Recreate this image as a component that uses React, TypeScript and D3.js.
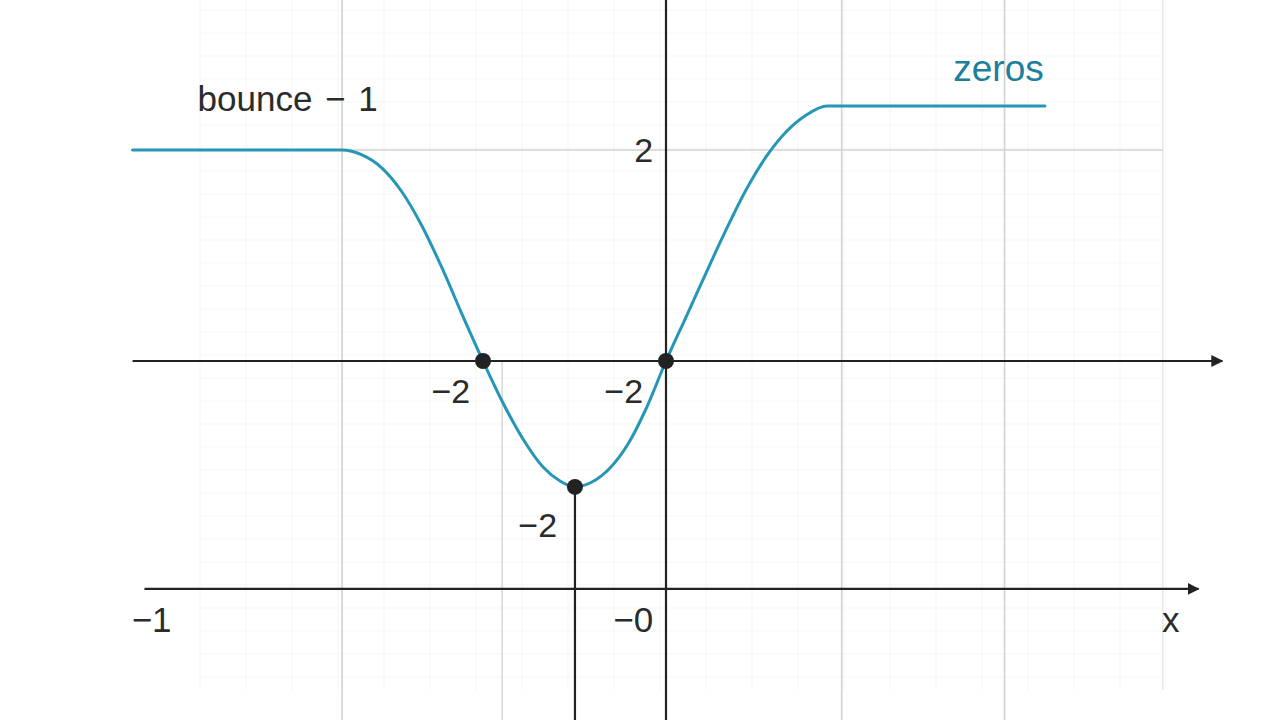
import React from "react";
import * as d3 from "d3";

// Curve samples (x units, y units)
const curveX = [-5.83, -3.541, -3.322, -3.104, -2.885, -2.667, -2.448, -2.23, -2.0, -1.781, -1.563, -1.344, -1.158, -0.995, -0.809, -0.612, -0.415, -0.219, 0, 0.219, 0.437, 0.656, 0.874, 1.093, 1.311, 1.53, 1.76, 4.142];
const curveY = [2.0, 2.0, 1.953, 1.829, 1.602, 1.28, 0.882, 0.445, 0, -0.398, -0.739, -1.005, -1.137, -1.194, -1.147, -1.014, -0.787, -0.455, 0, 0.417, 0.834, 1.242, 1.621, 1.934, 2.171, 2.33, 2.417, 2.417];

// Marked points
const pointX = [-2.0, 0, -0.995];
const pointY = [0, 0, -1.194];

// Grid lines (units)
const gridXMajor = [-3.54, 1.92, 3.7];
const gridXSecondary = [-1.79];
const gridXFaint = [5.43];
const gridYMajor = [2];

// Tick labels
const tickLabels = [
  { text: "2", x: -0.14, y: 1.89, anchor: "end" },
  { text: "−2", x: -2.14, y: -0.4, anchor: "end" },
  { text: "−2", x: -0.25, y: -0.4, anchor: "end" },
  { text: "−2", x: -1.19, y: -1.67, anchor: "end" },
];
const bottomLabels = [
  { text: "−1", x: -5.84, anchor: "start" },
  { text: "−0", x: -0.14, anchor: "end" },
  { text: "x", x: 5.42, anchor: "start" },
];
const seriesLabels = [
  { text: "bounce − 1", x: -5.12, y: 2.37, color: "#2b2b2b", size: 35, ws: 3 },
  { text: "zeros", x: 3.14, y: 2.65, color: "#1d7f9c", size: 37, ws: 0 },
];

export default function App() {
  const W = 1280, H = 720;
  const x = d3.scaleLinear().domain([0, 1]).range([666, 757.5]);
  const y = d3.scaleLinear().domain([0, 2]).range([361, 150]);
  const yBottomAxis = -2.16; // second horizontal axis level
  const font = "'Liberation Sans', Arial, sans-serif";

  const pts: [number, number][] = curveX.map((v, i) => [v, curveY[i]]);
  const line = d3
    .line<[number, number]>()
    .x((d) => x(d[0]))
    .y((d) => y(d[1]))
    .curve(d3.curveMonotoneX);

  // faint background grid
  const faintH = d3.range(10, 690, 23);
  const faintV = d3.range(200, 1170, 46);

  return (
    <svg width={W} height={H} style={{ position: "absolute", left: 0, top: 0, background: "#fff" }}>
      <defs>
        <marker id="arr" viewBox="0 0 12 12" refX="11" refY="6" markerWidth="12" markerHeight="12" markerUnits="userSpaceOnUse" orient="auto">
          <path d="M0,0 L12,6 L0,12 Z" fill="#222" />
        </marker>
      </defs>
      <g stroke="#f7f7f7" strokeWidth={1.2}>
        {faintH.map((v) => (
          <line key={"fh" + v} x1={200} x2={1163} y1={v} y2={v} />
        ))}
        {faintV.map((v) => (
          <line key={"fv" + v} x1={v} x2={v} y1={0} y2={690} />
        ))}
      </g>
      <g stroke="#d2d2d2" strokeWidth={1.6}>
        {gridXMajor.map((v) => (
          <line key={"gx" + v} x1={x(v)} x2={x(v)} y1={0} y2={H} />
        ))}
        {gridXSecondary.map((v) => (
          <line key={"gs" + v} x1={x(v)} x2={x(v)} y1={y(0)} y2={H} stroke="#dadada" />
        ))}
        {gridXFaint.map((v) => (
          <line key={"gf" + v} x1={x(v)} x2={x(v)} y1={0} y2={690} stroke="#e8e8e8" />
        ))}
        {gridYMajor.map((v) => (
          <line key={"gy" + v} x1={x(-3.54)} x2={x(5.43)} y1={y(v)} y2={y(v)} />
        ))}
      </g>
      {/* axes */}
      <g stroke="#222" strokeWidth={2.2}>
        <line x1={x(-5.83)} x2={x(6.08)} y1={y(0)} y2={y(0)} markerEnd="url(#arr)" />
        <line x1={x(-5.7)} x2={x(5.82)} y1={y(yBottomAxis)} y2={y(yBottomAxis)} markerEnd="url(#arr)" />
        <line x1={x(0)} x2={x(0)} y1={0} y2={H} />
        <line x1={x(-0.995)} x2={x(-0.995)} y1={y(-1.194)} y2={H} />
      </g>
      <path d={line(pts) || ""} fill="none" stroke="#2696b7" strokeWidth={3} strokeLinejoin="round" strokeLinecap="round" />
      <g fill="#222">
        {pointX.map((v, i) => (
          <circle key={"p" + i} cx={x(v)} cy={y(pointY[i])} r={8} />
        ))}
      </g>
      <g fontFamily={font} fill="#2b2b2b">
        {tickLabels.map((t, i) => (
          <text key={"t" + i} x={x(t.x)} y={y(t.y)} fontSize={34} textAnchor={t.anchor}>
            {t.text}
          </text>
        ))}
        {bottomLabels.map((t, i) => (
          <text key={"b" + i} x={x(t.x)} y={632} fontSize={35} textAnchor={t.anchor}>
            {t.text}
          </text>
        ))}
        {seriesLabels.map((t, i) => (
          <text key={"s" + i} x={x(t.x)} y={y(t.y)} fontSize={t.size} fill={t.color} wordSpacing={t.ws}>
            {t.text}
          </text>
        ))}
      </g>
    </svg>
  );
}
